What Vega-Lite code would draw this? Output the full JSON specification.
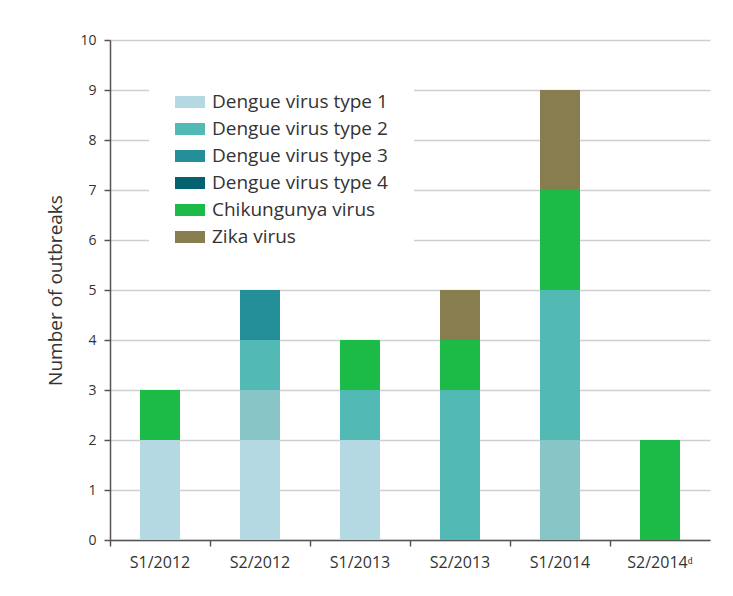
{
  "$schema": "https://vega.github.io/schema/vega-lite/v6.json",
  "width": 600,
  "height": 500,
  "autosize": {"type": "none"},
  "padding": {"left": 110, "top": 40, "right": 23, "bottom": 56},
  "background": "white",
  "config": {
    "view": {"stroke": null},
    "font": "Open Sans"
  },
  "data": {
    "values": [
      {"period": "S1/2012", "virus": "Dengue virus type 1", "k": 1, "n": 2},
      {"period": "S1/2012", "virus": "Chikungunya virus", "k": 6, "n": 1},
      {"period": "S2/2012", "virus": "Dengue virus type 1", "k": 1, "n": 2},
      {"period": "S2/2012", "virus": "Dengue virus type 1 & 2", "k": 2, "n": 1},
      {"period": "S2/2012", "virus": "Dengue virus type 2", "k": 3, "n": 1},
      {"period": "S2/2012", "virus": "Dengue virus type 3", "k": 4, "n": 1},
      {"period": "S1/2013", "virus": "Dengue virus type 1", "k": 1, "n": 2},
      {"period": "S1/2013", "virus": "Dengue virus type 2", "k": 3, "n": 1},
      {"period": "S1/2013", "virus": "Chikungunya virus", "k": 6, "n": 1},
      {"period": "S2/2013", "virus": "Dengue virus type 2", "k": 3, "n": 3},
      {"period": "S2/2013", "virus": "Chikungunya virus", "k": 6, "n": 1},
      {"period": "S2/2013", "virus": "Zika virus", "k": 7, "n": 1},
      {"period": "S1/2014", "virus": "Dengue virus type 1 & 2", "k": 2, "n": 2},
      {"period": "S1/2014", "virus": "Dengue virus type 2", "k": 3, "n": 3},
      {"period": "S1/2014", "virus": "Chikungunya virus", "k": 6, "n": 2},
      {"period": "S1/2014", "virus": "Zika virus", "k": 7, "n": 2},
      {"period": "S2/2014ᵈ", "virus": "Chikungunya virus", "k": 6, "n": 2}
    ]
  },
  "mark": {"type": "bar"},
  "encoding": {
    "x": {
      "field": "period",
      "type": "nominal",
      "sort": null,
      "title": null,
      "scale": {"paddingInner": 0.6, "paddingOuter": 0.3},
      "axis": {
        "bandPosition": -0.75,
        "labelAngle": 0,
        "labelFontSize": 16,
        "labelColor": "#333",
        "labelPadding": 8,
        "domainColor": "#555",
        "domainWidth": 1.5,
        "tickColor": "#555",
        "tickSize": 6,
        "tickWidth": 1.5,
        "grid": false
      }
    },
    "y": {
      "field": "n",
      "type": "quantitative",
      "stack": "zero",
      "title": "Number of outbreaks",
      "scale": {"domain": [0, 10], "nice": false},
      "axis": {
        "values": [0, 1, 2, 3, 4, 5, 6, 7, 8, 9, 10],
        "labelFontSize": 14,
        "labelColor": "#333",
        "labelPadding": 8,
        "titleFontSize": 19,
        "titleFontWeight": "normal",
        "titleColor": "#333",
        "titlePadding": 14,
        "domainColor": "#555",
        "domainWidth": 1.5,
        "tickColor": "#555",
        "tickSize": 6,
        "tickWidth": 1.5,
        "gridColor": "#cfcfcf",
        "gridWidth": 1.5
      }
    },
    "order": {"field": "k", "type": "quantitative"},
    "color": {
      "field": "virus",
      "type": "nominal",
      "title": null,
      "scale": {
        "domain": ["Dengue virus type 1", "Dengue virus type 1 & 2", "Dengue virus type 2", "Dengue virus type 3", "Dengue virus type 4", "Chikungunya virus", "Zika virus"],
        "range": ["#b5d9e2", "#88c5c6", "#52b9b4", "#248f98", "#04616e", "#1cbb48", "#877d4f"]
      },
      "legend": {
        "values": ["Dengue virus type 1", "Dengue virus type 2", "Dengue virus type 3", "Dengue virus type 4", "Chikungunya virus", "Zika virus"],
        "orient": "none",
        "legendX": 39,
        "legendY": 21,
        "padding": 26,
        "fillColor": "white",
        "symbolType": "M-1,-0.4H1V0.4H-1Z",
        "symbolSize": 900,
        "symbolStrokeWidth": 0,
        "symbolOpacity": 1,
        "labelFontSize": 19,
        "labelColor": "#333",
        "labelOffset": 7,
        "labelLimit": 300,
        "rowPadding": 2
      }
    }
  }
}
